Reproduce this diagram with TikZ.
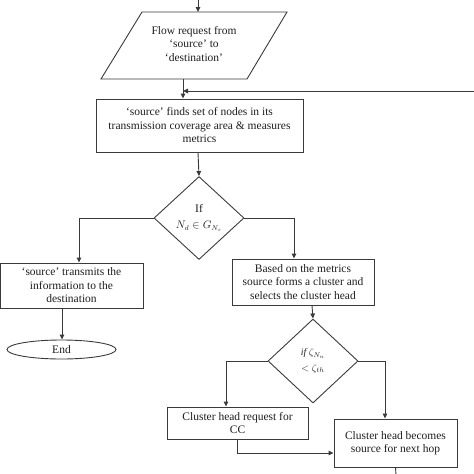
\documentclass[tikz,border=0pt]{standalone}
\usepackage{fontspec}
\setmainfont{Liberation Serif}
\usetikzlibrary{shapes.geometric,arrows.meta}
\definecolor{ln}{HTML}{3A3A3A}
\definecolor{tx}{HTML}{1E1E1E}
\begin{document}
\begin{tikzpicture}[x=1pt,y=-1pt,
  every node/.style={text=tx,font=\fontsize{11.5}{13.5}\selectfont,align=center,inner sep=0pt},
  box/.style={draw=ln,line width=0.9pt,rectangle},
  dec/.style={draw=ln,line width=0.9pt,diamond},
  arr/.style={draw=ln,line width=0.9pt,-{Triangle[length=5pt,width=4.5pt]}},
  ln/.style={draw=ln,line width=0.9pt}]
\useasboundingbox (0,0) rectangle (474,474);
% parallelogram
\coordinate (pa) at (142,12);
\coordinate (pb) at (287,12);
\coordinate (pc) at (247,79);
\coordinate (pd) at (101,79);
\draw[ln] (pa) -- (pb) -- (pc) -- (pd) -- cycle;
\node (flow) at (194,44) {Flow request from\\‘source’ to\\‘destination’};
\coordinate (start) at (198,0);
\coordinate (ptop) at (198,12);
\coordinate (pbot) at (183,79);
\coordinate (fb) at (475,91);
% boxes
\node[box,minimum width=207,minimum height=53] (b1) at (199.5,125.5)
  {‘source’ finds set of nodes in its\\transmission coverage area \& measures\\metrics};
\node[dec,minimum width=90,minimum height=83] (d1) at (199,218)
  {If\\[2pt]{\fontsize{10.5}{12}\selectfont$N_d\in G_{N_s}$}};
\node[box,minimum width=143,minimum height=45] (bl) at (71.5,285.5)
  {‘source’ transmits the\\information to the\\destination};
\node[box,minimum width=142,minimum height=46] (br) at (303,282)
  {Based on the metrics\\source forms a cluster and\\selects the cluster head};
\node[draw=ln,line width=0.9pt,ellipse,minimum width=109,minimum height=19] (end) at (61.5,349.5) {End};
\node[dec,minimum width=90,minimum height=84] (d2) at (313,361)
  {{\fontsize{10}{13}\selectfont$\mathit{if}\ \zeta_{N_n}$}\\[2pt]{\fontsize{10}{13}\selectfont$<\zeta_{th}$}};
\node[box,minimum width=141,minimum height=32] (cc) at (237.5,423)
  {Cluster head request for\\CC};
\node[box,minimum width=123,minimum height=48] (nh) at (395.5,443)
  {Cluster head becomes\\source for next hop};
\coordinate (out) at (396,475);
% connectors
\draw[arr] (start) -- (ptop);
\draw[arr] (pbot) -- (pbot |- b1.north);
\draw[arr] (fb) -- (fb -| pbot);
\draw[arr] ([xshift=-1.5pt]b1.south) -- (d1.north);
\draw[arr] (d1.west) -| ([xshift=7.5pt]bl.north);
\draw[arr] (d1.east) -| ([xshift=-9pt]br.north);
\draw[arr] ([xshift=-9.5pt]bl.south) -- ([xshift=0.5pt]end.north);
\draw[arr] ([xshift=9pt]br.south) -- (d2.north);
\draw[arr] (d2.west) -| ([xshift=-11.5pt]cc.north);
\draw[arr] (d2.east) -| ([xshift=-10.5pt]nh.north);
\draw[arr] (cc.south) |- ([yshift=-10pt]nh.west);
\draw[ln] (nh.south) -- (out);
\end{tikzpicture}
\end{document}
